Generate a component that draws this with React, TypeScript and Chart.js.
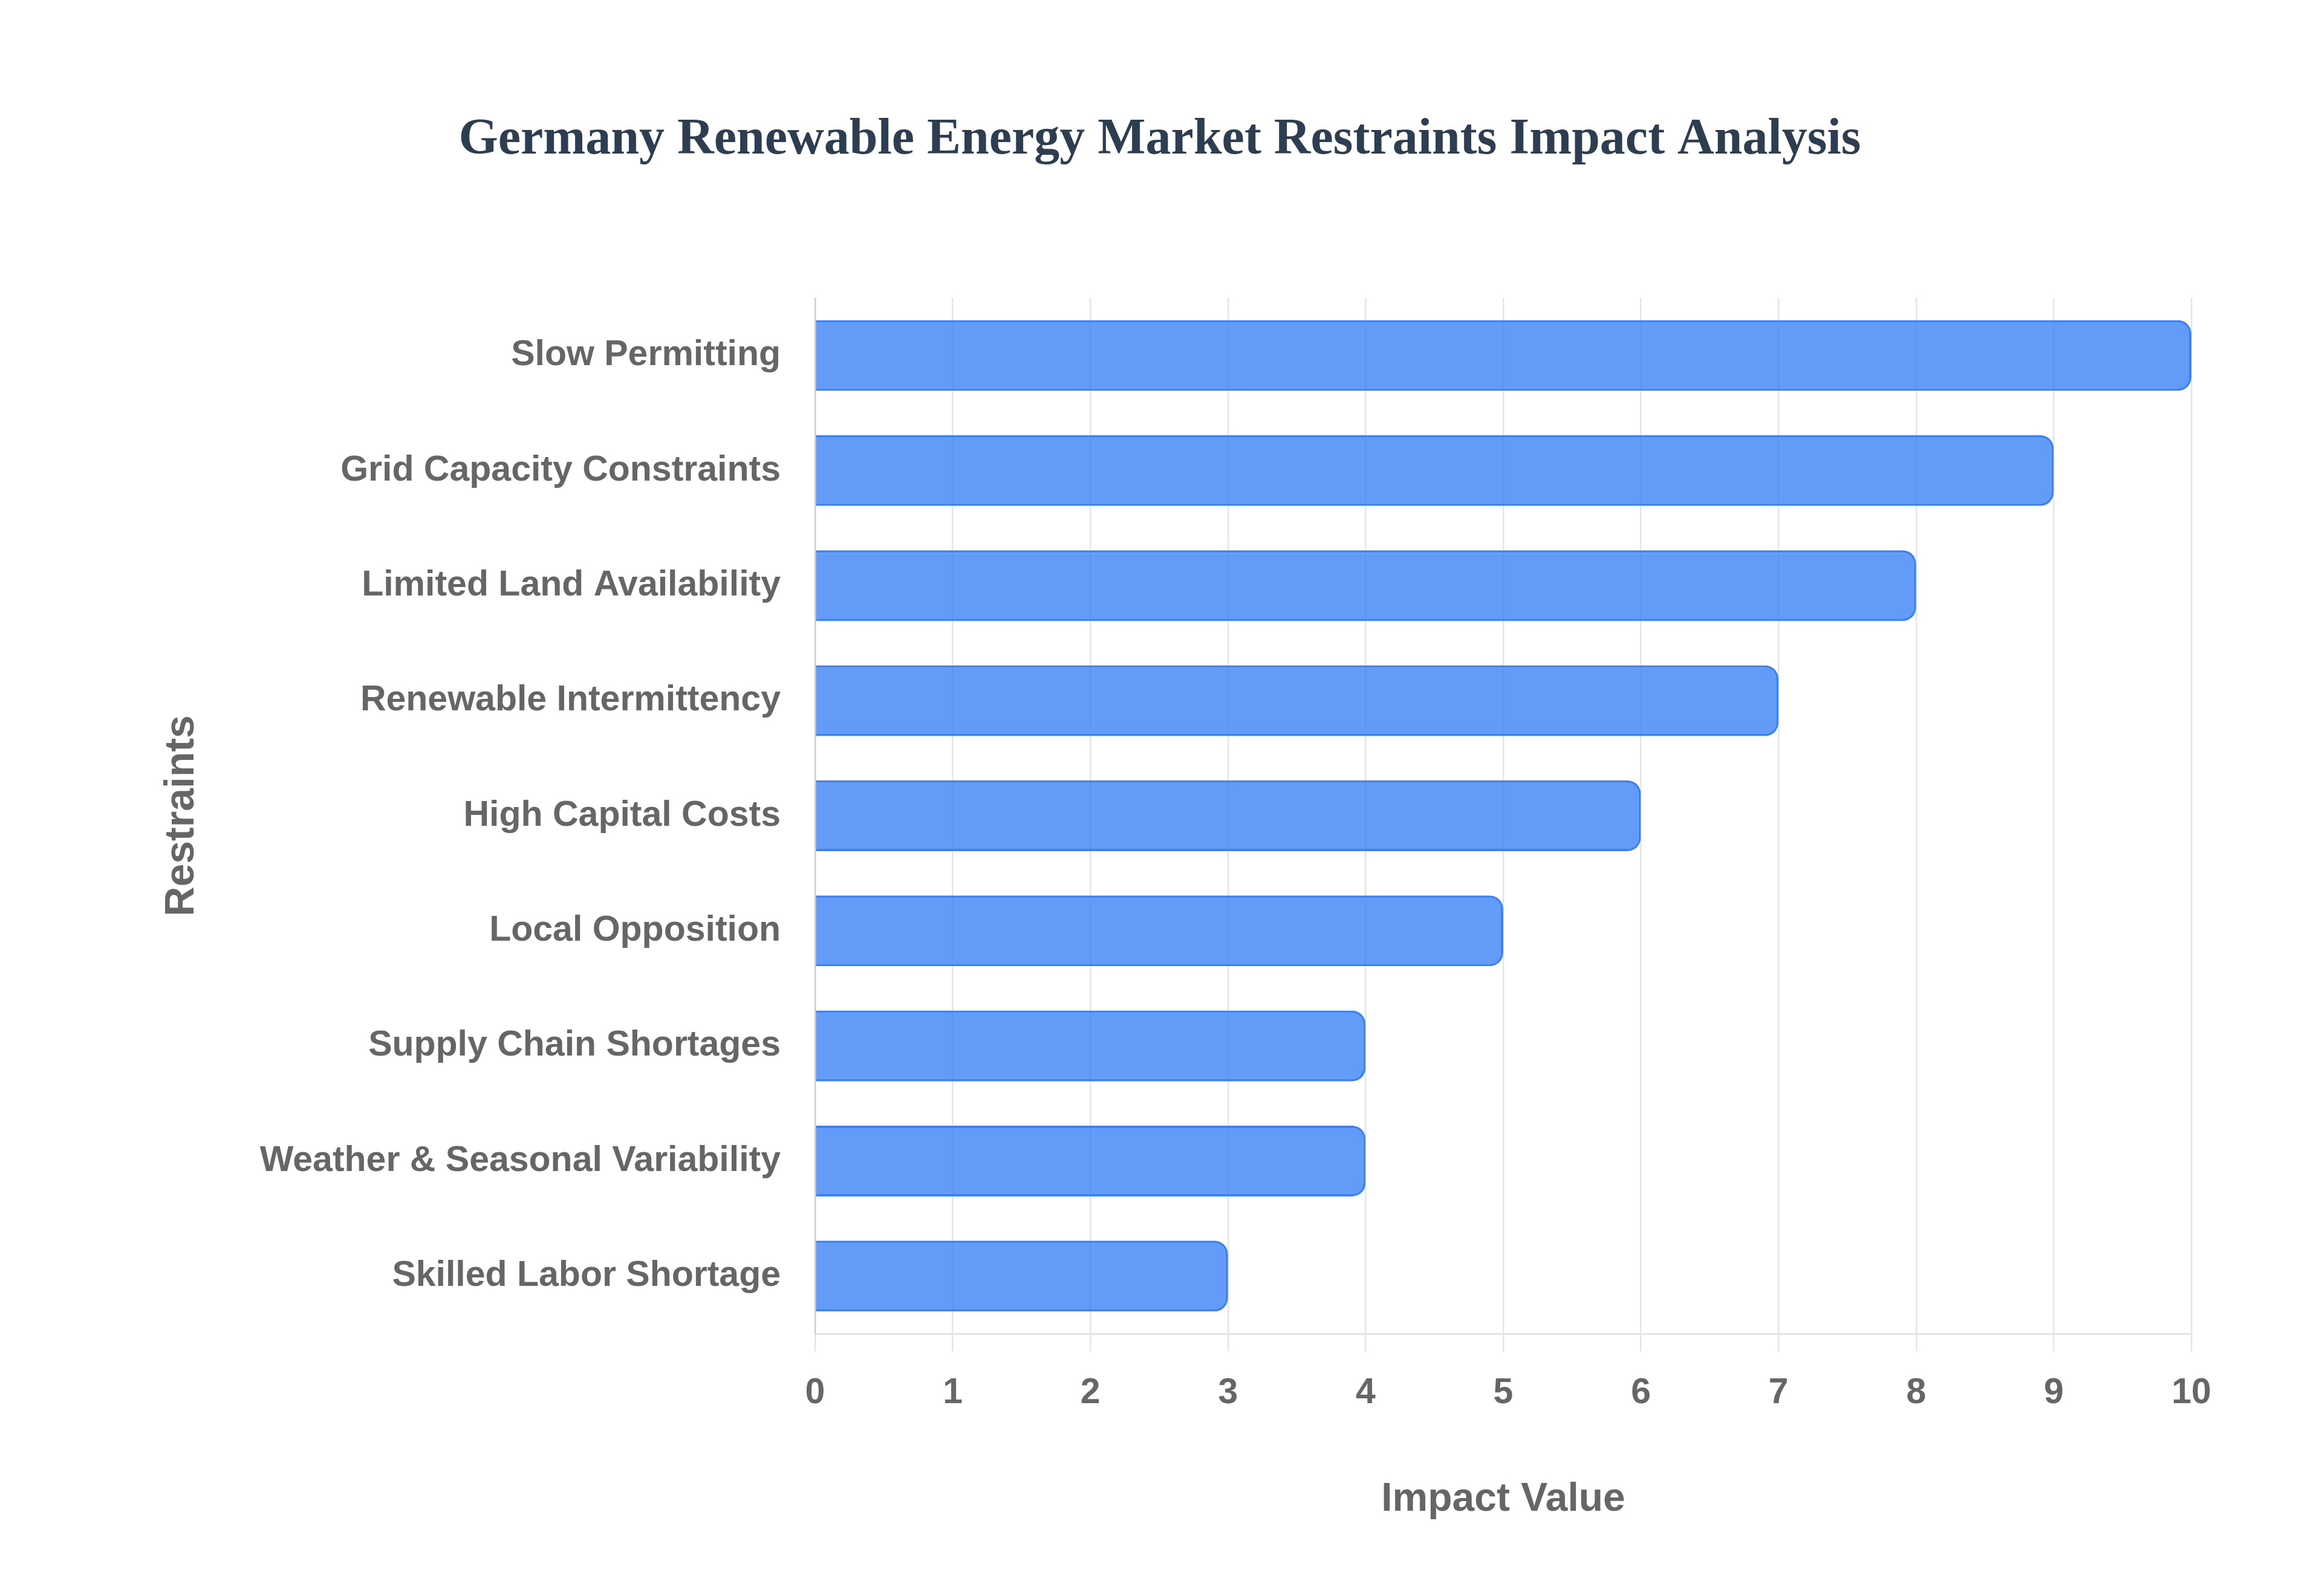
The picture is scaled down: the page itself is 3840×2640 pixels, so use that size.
import { useEffect, useRef } from 'react';
import { Chart, registerables } from 'chart.js';

Chart.register(...registerables);

const restraints = [
  'Slow Permitting',
  'Grid Capacity Constraints',
  'Limited Land Availability',
  'Renewable Intermittency',
  'High Capital Costs',
  'Local Opposition',
  'Supply Chain Shortages',
  'Weather & Seasonal Variability',
  'Skilled Labor Shortage',
];

const impactValues = [10, 9, 8, 7, 6, 5, 4, 4, 3];

const xTickMin = 0;
const xTickMax = 10;

const chartTitle = 'Germany Renewable Energy Market Restraints Impact Analysis';
const xAxisTitle = 'Impact Value';
const yAxisTitle = 'Restraints';

export default function App() {
  const canvasRef = useRef<HTMLCanvasElement>(null);
  const chartRef = useRef<Chart | null>(null);

  useEffect(() => {
    if (!canvasRef.current) return;

    if (chartRef.current) {
      chartRef.current.destroy();
    }

    const labelFont = { family: '"Liberation Sans", Arial, sans-serif', size: 59, weight: 'bold' as const };
    const axisTitleFont = { family: '"Liberation Sans", Arial, sans-serif', size: 66, weight: 'bold' as const };

    chartRef.current = new Chart(canvasRef.current, {
      type: 'bar',
      data: {
        labels: restraints,
        datasets: [
          {
            label: 'Impact',
            data: impactValues,
            backgroundColor: 'rgba(59, 130, 246, 0.8)',
            borderColor: '#3B82F6',
            borderWidth: 4,
            borderRadius: 22,
            categoryPercentage: 1,
            barPercentage: 0.615,
          },
        ],
      },
      options: {
        indexAxis: 'y',
        responsive: true,
        maintainAspectRatio: false,
        devicePixelRatio: 1,
        animation: false,
        layout: { padding: { left: 204, right: 208, top: 0, bottom: 112 } },
        plugins: {
          legend: { display: false },
          tooltip: { enabled: false },
          title: {
            display: true,
            text: chartTitle,
            color: '#2c3e50',
            font: { family: '"Liberation Serif", "Times New Roman", serif', size: 84, weight: 'bold' },
            padding: { top: 174, bottom: 210 },
          },
        },
        scales: {
          x: {
            min: xTickMin,
            max: xTickMax,
            beginAtZero: true,
            grid: { color: 'rgba(0, 0, 0, 0.1)', lineWidth: 2.5, tickLength: 29 },
            border: { color: 'rgba(0, 0, 0, 0.1)', width: 3 },
            ticks: { stepSize: 1, color: '#666666', font: labelFont, padding: 34 },
            title: {
              display: true,
              text: xAxisTitle,
              color: '#666666',
              font: axisTitleFont,
              padding: { top: 0, bottom: 0 },
            },
            afterFit: (scale) => {
              scale.height = 314;
            },
          },
          y: {
            grid: { display: false, drawTicks: false },
            border: { color: 'rgba(0, 0, 0, 0.1)', width: 2.5 },
            ticks: { color: '#666666', font: labelFont, padding: 57 },
            title: {
              display: true,
              text: yAxisTitle,
              color: '#666666',
              font: { ...axisTitleFont, size: 68 },
              padding: { top: 48, bottom: 0 },
            },
            afterFit: (scale) => {
              scale.width = 1136;
            },
          },
        },
      },
    });

    return () => {
      chartRef.current?.destroy();
      chartRef.current = null;
    };
  }, []);

  return (
    <div style={{ width: '100%', height: 2624, background: '#ffffff' }}>
      <canvas ref={canvasRef} />
    </div>
  );
}
